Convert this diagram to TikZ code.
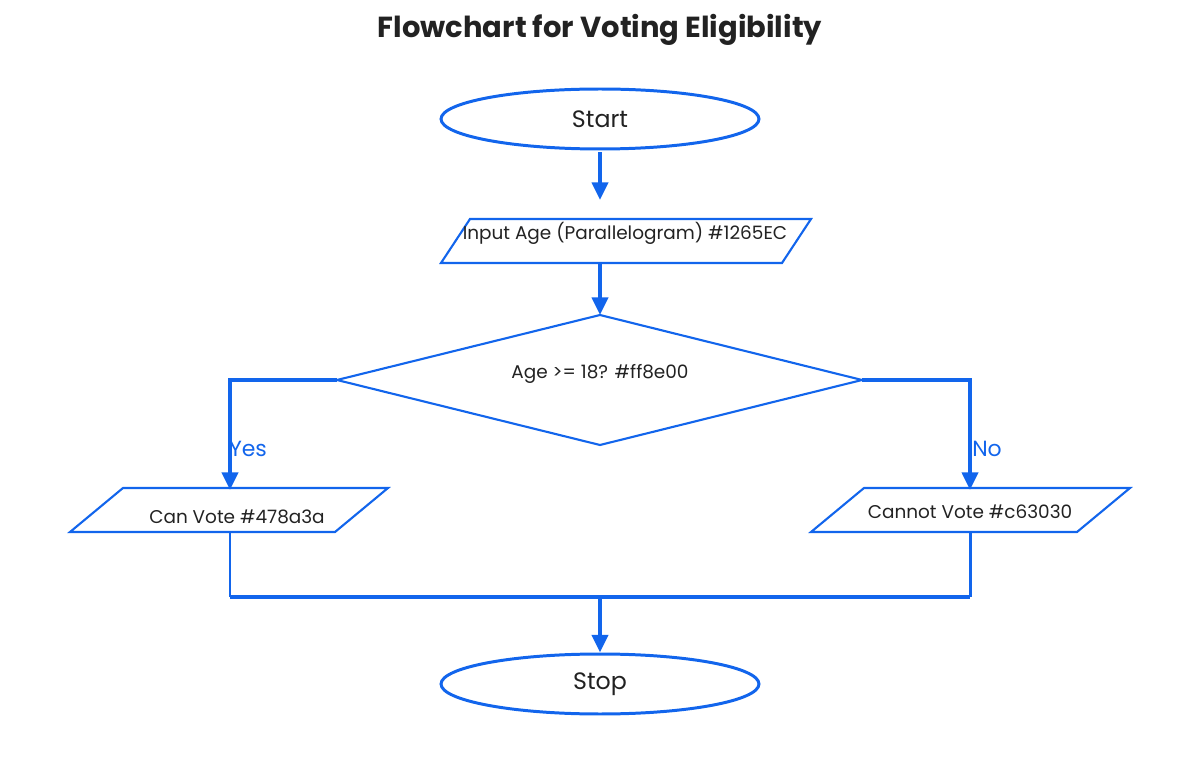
\documentclass[tikz,border=0pt]{standalone}
\usepackage{fontspec}
\setmainfont{Poppins}
\usetikzlibrary{shapes.geometric,arrows.meta}
\definecolor{fb}{HTML}{1265EC}
\definecolor{tx}{HTML}{222222}
\begin{document}
\begin{tikzpicture}[x=0.02cm,y=-0.02cm,
  shp/.style={draw=fb,line width=1.2pt},
  ell/.style={draw=fb,line width=1.7pt,ellipse,minimum width=6.36cm,minimum height=1.2cm,font=\fontsize{13.5}{16}\selectfont,text=tx},
  lbl/.style={font=\fontsize{10.5}{13}\selectfont,text=tx},
  con/.style={draw=fb,line width=2.3pt},
  arr/.style={con,-{Triangle[length=10pt,width=9pt]}}]
\useasboundingbox (0,0) rectangle (1200,763);
\node[font=\bfseries\fontsize{16.5}{20}\selectfont,text=tx] (title) at (600,30) {Flowchart for Voting Eligibility};
\node[ell] (start) at (600,119) {Start};
\node[ell] (stop) at (600,684) {Stop};
% input
\draw[shp] (470,219) -- (811,219) -- (782,263) -- (441,263) -- cycle;
\node[lbl] (inp) at (625,233) {Input Age (Parallelogram) \#1265EC};
\coordinate (inT) at (600,219); \coordinate (inB) at (600,263);
% diamond
\draw[shp] (600,315) -- (862,380) -- (600,445) -- (337,380) -- cycle;
\coordinate (dT) at (600,315); \coordinate (dL) at (337,380); \coordinate (dR) at (862,380);
\node[lbl] (dec) at (600,374) {Age >= 18? \#ff8e00};
% can vote
\draw[shp] (123,488) -- (388,488) -- (335,532) -- (70,532) -- cycle;
\node[lbl] (can) at (237,517) {Can Vote \#478a3a};
\coordinate (cT) at (230,490); \coordinate (cB) at (230,532);
% cannot vote
\draw[shp] (864,488) -- (1130,488) -- (1077,532) -- (811,532) -- cycle;
\node[lbl] (cannot) at (970,512) {Cannot Vote \#c63030};
\coordinate (nT) at (970,490); \coordinate (nB) at (970,532);
\coordinate (mL) at (230,597); \coordinate (mR) at (970,597); \coordinate (mM) at (600,597);
% connectors
\draw[arr] (start.south) ++(0,2) -- (600,200);
\draw[arr] (inB) -- (dT);
\draw[arr] (dL) -- (230,380) -- (cT);
\draw[arr] (dR) -- (970,380) -- (nT);
\node[font=\fontsize{12.5}{15}\selectfont,text=fb] (yes) at (248,449) {Yes};
\node[font=\fontsize{12.5}{15}\selectfont,text=fb] (no) at (987,449) {No};
\draw[con,line width=1.7pt] (cB) -- (mL);
\draw[con,line width=1.7pt] (nB) -- (mR);
\draw[con] (mL) -- (mR);
\draw[arr] (mM) -- (stop.north);
\end{tikzpicture}
\end{document}
